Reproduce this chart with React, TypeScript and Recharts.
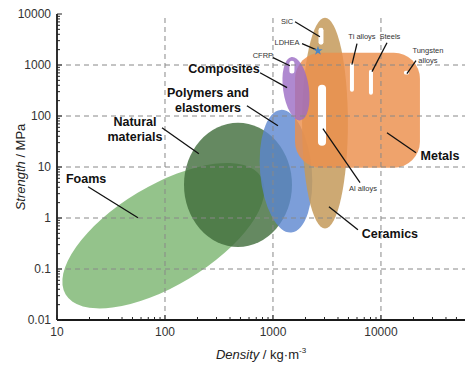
import React from 'react';
import {
  ComposedChart, XAxis, YAxis, ZAxis, ReferenceArea, ReferenceLine, ReferenceDot, Scatter, Label,
} from 'recharts';

// material families: bounding box of each bubble (density kg/m3, strength MPa)
const familyNames = ['Foams', 'Natural materials', 'Polymers and elastomers', 'Ceramics', 'Metals', 'Composites'];
const familyDensityLow = [8.5, 150, 760, 1860, 1600, 1240];
const familyDensityHigh = [1100, 1500, 2290, 4940, 22960, 2150];
const familyStrengthLow = [0.047, 0.27, 0.515, 0.62, 9.7, 81];
const familyStrengthHigh = [4.3, 74, 133, 8460, 1740, 1455];

// white gaps inside the bubbles
const gapNames = ['CFRP', 'SiC', 'Al alloys', 'Ti alloys', 'Steels', 'Tungsten alloys'];
const gapDensityLow = [1420, 2640, 2610, 5160, 7740, 16300];
const gapDensityHigh = [1580, 2935, 3100, 5620, 8430, 18200];
const gapStrengthLow = [680, 2500, 26, 299, 262, 649];
const gapStrengthHigh = [1210, 5390, 411, 1110, 809, 773];

// LDHEA point
const ldhea = [{ density: 2610, strength: 1900 }];

// annotation texts, anchor and leader line (data coords)
const noteTexts = ['Foams', 'Natural\nmaterials', 'Polymers and\nelastomers', 'Composites', 'CFRP', 'SiC', 'LDHEA',
  'Ti alloys', 'Steels', 'Tungsten\nalloys', 'Metals', 'Ceramics', 'Al alloys'];
const noteDensity = [18.6, 52.7, 250, 352, 807, 1350, 1350, 6670, 12100, 27200, 35200, 12100, 6810];
const noteStrength = [5.9, 53.9, 200, 846, 1592, 7390, 2860, 3760, 3760, 1592, 16.7, 0.492, 3.93];
const leaderFromDensity = [19.4, 93.8, 574, 759, 1000, 1600, 1860, 6000, 11370, 21100, 11370, 3300, 2900];
const leaderFromStrength = [4.1, 59, 159, 706, 1390, 7060, 2620, 2620, 2735, 1215, 47.1, 1.67, 56.4];
const leaderToDensity = [56.2, 206, 1112, 1350, 1435, 2720, 2500, 5380, 8260, 17400, 21100, 6120, 6400];
const leaderToStrength = [1.01, 18.2, 64.5, 359, 968, 3590, 1995, 1014, 740, 676, 19.1, 0.59, 4.92];

const xMajor = [10, 100, 1000, 10000];
const xMinor = [20, 30, 40, 50, 60, 70, 80, 90, 200, 300, 400, 500, 600, 700, 800, 900,
  2000, 3000, 4000, 5000, 6000, 7000, 8000, 9000, 20000, 30000, 40000, 50000];
const yMajor = [0.01, 0.1, 1, 10, 100, 1000, 10000];
const yMinor = [0.02, 0.03, 0.04, 0.05, 0.06, 0.07, 0.08, 0.09, 0.2, 0.3, 0.4, 0.5, 0.6, 0.7, 0.8, 0.9,
  2, 3, 4, 5, 6, 7, 8, 9, 20, 30, 40, 50, 60, 70, 80, 90, 200, 300, 400, 500, 600, 700, 800, 900,
  2000, 3000, 4000, 5000, 6000, 7000, 8000, 9000];
const xGrid = [100, 1000, 10000];
const yGrid = [0.1, 1, 10, 100, 1000];

const familyStyle = [
  { fill: '#88bd7e', opacity: 0.9, angle: -31, kind: 'ellipse' },
  { fill: '#3f6b3a', opacity: 0.8, angle: 0, kind: 'ellipse' },
  { fill: '#5b86d0', opacity: 0.8, angle: -5, kind: 'ellipse' },
  { fill: '#c49a5a', opacity: 0.85, angle: 0, kind: 'ellipse' },
  { fill: '#ec8f4c', opacity: 0.82, angle: 0, kind: 'rect' },
  { fill: '#9b6cc4', opacity: 0.8, angle: -8, kind: 'ellipse' },
];

const FONT = '"Liberation Sans", Arial, sans-serif';
const isMajor = (v: number) => Math.abs(Math.log10(v) - Math.round(Math.log10(v))) < 1e-6;
const xTicks = [...xMajor, ...xMinor];
const yTicks = [...yMajor, ...yMinor];
const frame = { stroke: '#1a1a1a', strokeWidth: 1.8 };

const BottomTick = (p: any) => {
  const major = isMajor(p.payload.value);
  return (
    <g>
      <line x1={p.x} x2={p.x} y1={p.y} y2={p.y - (major ? 5 : 3)} stroke="#222" />
      {major && <text x={p.x} y={p.y + 16} textAnchor="middle" fontSize={12} fill="#333">{p.payload.value}</text>}
    </g>
  );
};
const TopTick = (p: any) => {
  const major = isMajor(p.payload.value);
  return <line x1={p.x} x2={p.x} y1={p.y} y2={p.y + (major ? 5 : 3)} stroke="#222" />;
};
const LeftTick = (p: any) => {
  const major = isMajor(p.payload.value);
  return (
    <g>
      <line x1={p.x} x2={p.x + (major ? 5 : 3)} y1={p.y} y2={p.y} stroke="#222" />
      {major && <text x={p.x - 6} y={p.y + 4} textAnchor="end" fontSize={12} fill="#333">{p.payload.value}</text>}
    </g>
  );
};
const RightTick = (p: any) => {
  const major = isMajor(p.payload.value);
  return <line x1={p.x} x2={p.x - (major ? 5 : 3)} y1={p.y} y2={p.y} stroke="#222" />;
};

const YTitle = (p: any) => {
  const vb = p.viewBox;
  const cx = vb.x + 20;
  const cy = vb.y + vb.height / 2;
  return (
    <text x={cx} y={cy} transform={`rotate(-90 ${cx} ${cy})`} textAnchor="middle" dominantBaseline="central"
      fontSize={13} fill="#222">
      <tspan fontStyle="italic">Strength</tspan> / MPa
    </text>
  );
};
const XTitle = (p: any) => {
  const vb = p.viewBox;
  const cx = vb.x + vb.width / 2;
  return (
    <text x={cx} y={vb.y + 39} textAnchor="middle" fontSize={13} fill="#222">
      <tspan fontStyle="italic">Density</tspan> / kg·m<tspan fontSize={8} dy={-6}>-3</tspan>
    </text>
  );
};

const familyShape = (i: number) => (p: any) => {
  const s = familyStyle[i];
  const { x, y, width, height } = p;
  if (s.kind === 'rect') {
    return <rect x={x} y={y} width={width} height={height} rx={26} ry={26} fill={s.fill} fillOpacity={s.opacity} />;
  }
  const cx = x + width / 2;
  const cy = y + height / 2;
  return (
    <ellipse cx={cx} cy={cy} rx={width / 2} ry={height / 2} fill={s.fill} fillOpacity={s.opacity}
      transform={`rotate(${s.angle} ${cx} ${cy})`} />
  );
};
const gapShape = (p: any) => {
  const r = Math.min(p.width, p.height) / 2;
  return <rect x={p.x} y={p.y} width={p.width} height={p.height} rx={r} ry={r} fill="#fff" />;
};

const smallNotes = ['CFRP', 'SiC', 'LDHEA', 'Ti alloys', 'Steels', 'Tungsten\nalloys', 'Al alloys'];
const noteShape = (i: number) => (p: any) => {
  const lines = noteTexts[i].split('\n');
  const small = smallNotes.includes(noteTexts[i]);
  const fs = small ? 7.5 : 12.5;
  const lh = small ? 10 : 15;
  const top = p.cy - ((lines.length - 1) * lh) / 2;
  return (
    <text x={p.cx} y={top} textAnchor="middle" dominantBaseline="central" fontSize={fs}
      fontWeight={small ? 'normal' : 'bold'} fill={small ? '#333' : '#111'}>
      {lines.map((l, k) => <tspan key={k} x={p.cx} y={top + k * lh}>{l}</tspan>)}
    </text>
  );
};

export default function App() {
  return (
    <div style={{ fontFamily: FONT }}>
      <style>{'body{margin:0;}'}</style>
      <ComposedChart width={474} height={371} margin={{ top: 14, right: 9, bottom: 0, left: 0 }}>
        <XAxis type="number" dataKey="density" scale="log" domain={[10, 60000]} allowDataOverflow
          ticks={xTicks} interval={0} tickSize={0} tickMargin={0} tick={BottomTick} height={51} axisLine={frame}>
          <Label content={XTitle} />
        </XAxis>
        <XAxis xAxisId="top" orientation="top" type="number" scale="log" domain={[10, 60000]} allowDataOverflow
          ticks={xTicks} interval={0} tickSize={0} tickMargin={0} tick={TopTick} height={0} axisLine={frame} />
        <YAxis type="number" dataKey="strength" scale="log" domain={[0.01, 10000]} allowDataOverflow
          ticks={yTicks} interval={0} tickSize={0} tickMargin={0} tick={LeftTick} width={57} axisLine={frame}>
          <Label content={YTitle} />
        </YAxis>
        <YAxis yAxisId="right" orientation="right" type="number" scale="log" domain={[0.01, 10000]} allowDataOverflow
          ticks={yTicks} interval={0} tickSize={0} tickMargin={0} tick={RightTick} width={0} axisLine={frame} />
        <ZAxis range={[28, 28]} />

        {familyNames.map((n, i) => (
          <ReferenceArea key={n} x1={familyDensityLow[i]} x2={familyDensityHigh[i]}
            y1={familyStrengthLow[i]} y2={familyStrengthHigh[i]} ifOverflow="visible" shape={familyShape(i)} />
        ))}
        {gapNames.map((n, i) => (
          <ReferenceArea key={n} x1={gapDensityLow[i]} x2={gapDensityHigh[i]}
            y1={gapStrengthLow[i]} y2={gapStrengthHigh[i]} ifOverflow="visible" shape={gapShape} />
        ))}

        {xGrid.map((v) => (
          <ReferenceLine key={'x' + v} x={v} stroke="#888" strokeDasharray="5 4" strokeWidth={1} />
        ))}
        {yGrid.map((v) => (
          <ReferenceLine key={'y' + v} y={v} stroke="#888" strokeDasharray="5 4" strokeWidth={1} />
        ))}

        <Scatter data={ldhea} dataKey="strength" shape="star" fill="#4a86c5" isAnimationActive={false} />

        {noteTexts.map((t, i) => (
          <ReferenceLine key={'l' + i} ifOverflow="visible" stroke="#111" strokeWidth={1.3}
            segment={[{ x: leaderFromDensity[i], y: leaderFromStrength[i] }, { x: leaderToDensity[i], y: leaderToStrength[i] }]} />
        ))}
        {noteTexts.map((t, i) => (
          <ReferenceDot key={'t' + i} x={noteDensity[i]} y={noteStrength[i]} r={0} ifOverflow="visible"
            shape={noteShape(i)} />
        ))}
      </ComposedChart>
    </div>
  );
}
